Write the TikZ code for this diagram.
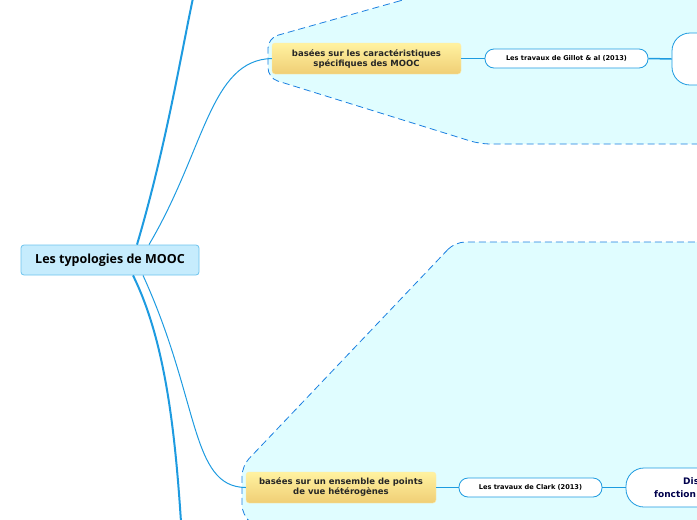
\documentclass[tikz,border=0pt]{standalone}
\usepackage{fontspec}
\setmainfont{DejaVu Sans}
\newfontfamily\rootfont{Open Sans}
\definecolor{br}{HTML}{1E9BE0}
\definecolor{rg}{HTML}{E0FDFF}
\definecolor{dash}{HTML}{1A7FE0}
\definecolor{rootfill}{HTML}{C6ECFD}
\definecolor{rootline}{HTML}{6CC4EE}
\tikzset{
 region/.style={fill=rg,draw=dash,dash pattern=on 7pt off 4pt,line width=0.8pt,rounded corners=10pt},
 yellowbox/.style={rounded corners=3pt,draw=yellow!60!orange!30,top color=yellow!30!white!90!orange,bottom color=yellow!60!orange!60!brown!60,font=\bfseries\fontsize{8.5}{10}\selectfont,text=black!85,align=center,inner sep=0pt},
 pill/.style={rounded corners=9pt,draw=br,fill=white,line width=0.8pt,font=\bfseries\fontsize{6.6}{8}\selectfont,inner sep=0pt},
 bignode/.style={rounded corners=18pt,draw=br,fill=white,line width=0.8pt,inner sep=0pt},
 thick branch/.style={draw=br,line width=2pt},
 thin branch/.style={draw=br,line width=1pt},
}
\begin{document}
\begin{tikzpicture}[x=1pt,y=-1pt]
\useasboundingbox (0,0) rectangle (697,520);
\clip (0,0) rectangle (697,520);
% regions
\path[region] (410,-2) -- (268,38) -- (268,78) -- (480,144) -- (720,144) -- (720,-2) -- cycle;
\path[region] (455,242) -- (242,466) -- (242,515) -- (255,526) -- (720,526) -- (720,242) -- cycle;
% root
\node[draw=rootline,fill=rootfill,rounded corners=3pt,line width=0.8pt,minimum width=178pt,minimum height=30pt,font=\rootfont\bfseries\fontsize{12.5}{14}\selectfont,inner sep=0pt] (root) at (110,260) {Les typologies de MOOC};
\coordinate (top1) at (193,-2);
\coordinate (bot1) at (181,522);
% yellow boxes
\node[yellowbox,minimum width=189pt,minimum height=31pt] (y1) at (366.5,58.5) {basées sur les caractéristiques\\ spécifiques des MOOC};
\node[yellowbox,minimum width=190pt,minimum height=31pt] (y2) at (341,487.5) {basées sur un ensemble de points\\ de vue hétérogènes};
% pills
\node[pill,minimum width=163pt,minimum height=19pt] (p1) at (566.5,58.5) {Les travaux de Gillot \& al (2013)};
\node[pill,minimum width=143pt,minimum height=19pt] (p2) at (530.5,487.5) {Les travaux de Clark (2013)};
% big nodes
\node[bignode,minimum width=80pt,minimum height=52pt] (b1) at (712,59) {};
\node[bignode,minimum width=120pt,minimum height=39pt] (b2) at (686,487.5) {};
\node[anchor=west,font=\bfseries\fontsize{9}{10}\selectfont,text=blue!30!black,inner sep=0pt] (b2a) at (683,481) {Dis};
\node[anchor=west,font=\bfseries\fontsize{9}{10}\selectfont,text=blue!30!black,inner sep=0pt] (b2b) at (654,494) {fonction};
% connectors
\draw[thick branch] ([xshift=27pt]root.north) .. controls (165,150) and (180,60) .. (top1);
\draw[thin branch] ([xshift=39pt]root.north) .. controls (205,150) and (210,60) .. (y1.west);
\draw[thick branch] ([xshift=23pt]root.south) .. controls (165,340) and (175,430) .. (bot1);
\draw[thin branch] ([xshift=33pt]root.south) .. controls (200,400) and (190,487) .. (y2.west);
\draw[thin branch,line width=1.5pt] (y1.east) -- (p1.west);
\draw[thin branch,line width=1.5pt] (p1.east) -- (b1.west);
\draw[thin branch,line width=1.5pt] (y2.east) -- (p2.west);
\draw[thin branch,line width=1.5pt] (p2.east) -- (b2.west);
\end{tikzpicture}
\end{document}
